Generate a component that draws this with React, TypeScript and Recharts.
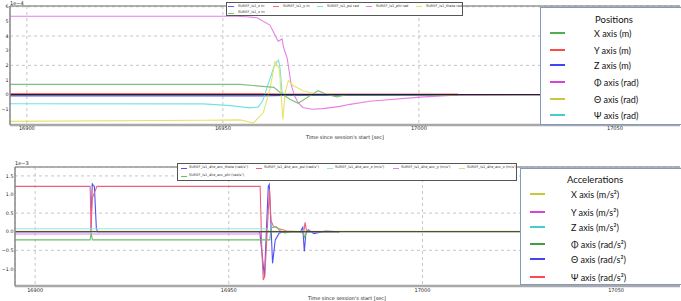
import React from "react";
import { CartesianGrid, Line, LineChart, ReferenceLine, XAxis, YAxis } from "recharts";

type Pt = [number, number];

// ---- ticks / domains ----
const timeTicks = [16900, 16950, 17000, 17050];
const posTicks = [-1, 0, 1, 2, 3, 4, 5, 6];
const accTicks = [-1.0, -0.5, 0, 0.5, 1.0, 1.5];
const posDomainX = [16895.7, 17066.6];
const accDomainX = [16894.8, 17066.5];
const posDomainY = [-2.07, 6.05];
const accDomainY = [-1.46, 1.74];

// ---- positions (x1e-4), [time, value] ----
const posZ: Pt[] = [[16895.7, -0.08], [16960, -0.08], [16966, -0.05], [17010, -0.04]];
const posY: Pt[] = [[16895.7, 0.08], [16960, 0.08], [16966, 0.05], [17010, 0.04]];
const posPsi: Pt[] = [
  [16895.7, -0.62], [16945, -0.63], [16952, -0.75], [16956.9, -0.9], [16959, -0.85],
  [16960.2, -0.4], [16962, 1.08], [16963.3, 2.12], [16964.2, 2.35], [16964.6, 1.77],
  [16965.1, 0.15], [16965.9, 0], [17010, 0],
];
const posPhi: Pt[] = [
  [16895.7, 5.35], [16953.5, 5.35], [16956, 5.32], [16958.7, 5.25], [16962, 4.75],
  [16964.1, 3.65], [16965.1, 3.8], [16965.5, 3.2], [16966.4, 2.5], [16967.4, 0.7],
  [16968.3, -0.1], [16969.2, -0.55], [16970.4, -0.87], [16972.7, -1.0], [16975.5, -0.95],
  [16979.9, -0.8], [16982.4, -0.66], [16987.5, -0.45], [17000.3, -0.17], [17009.2, -0.03],
  [17066.6, 0],
];
const posTheta: Pt[] = [
  [16895.7, -1.82], [16945, -1.75], [16954.4, -1.72], [16957.8, -1.93], [16960.3, -1.24],
  [16962, 0.38], [16963.3, 2.24], [16964.4, 1.77], [16965.3, -1.7], [16965.9, 0.15],
  [16966.7, 0.96], [16968, 0.61], [16970.5, 0.26], [16973.9, 0.03], [17010, 0],
];
const posX: Pt[] = [
  [16895.7, 0.7], [16954.4, 0.7], [16963.0, 0.5], [16964.6, 0.15], [16967.1, -0.31],
  [16969.2, -0.59], [16972.2, -0.08], [16974.3, 0.27], [16976.4, 0.03], [16979, -0.15],
  [16981.6, 0], [17010, 0],
];

// ---- accelerations (x1e-3), [time, value] ----
const accTheta: Pt[] = [
  [16894.8, 0], [16914.4, 0], [16914.6, 0.8], [16914.75, 1.3], [16915.0, 1.24], [16915.3, 1.22],
  [16915.8, 0.1], [16916.1, 0], [16958.0, 0], [16959.2, -1.21], [16960.2, 1.22], [16960.45, 1.27],
  [16961.3, -0.85], [16962.0, -0.22], [16963.0, -0.04], [16964.0, 0], [16968.5, 0], [16969.1, 0.12],
  [16969.5, -0.53], [16969.9, -0.05], [16970.5, 0.05], [16972, -0.05], [16975, 0.02], [16978.5, 0],
];
const accPsi: Pt[] = [
  [16894.8, 1.22], [16914.2, 1.22], [16914.45, 0.05], [16914.75, 0.9], [16915.95, 1.22],
  [16958.1, 1.22], [16958.5, -0.4], [16958.9, -1.3], [16959.3, -1.2], [16960.5, 1.15],
  [16960.9, 0.3], [16961.5, 0.15], [16963, 0.08], [16965, 0.02], [16968.5, 0], [16969.3, -0.05],
  [16969.7, 0.25], [16970.1, 0], [16978.5, 0],
];
const accZ: Pt[] = [[16894.8, 0.08], [16959.8, 0.08], [16960.5, 0], [16978.5, 0]];
const accY: Pt[] = [[16894.8, -0.06], [16958.0, -0.06], [16958.5, 0], [16978.5, 0]];
const accX: Pt[] = [[16894.8, 0.01], [17066.5, 0.01]];
const accPhi: Pt[] = [
  [16894.8, -0.22], [16914.2, -0.22], [16914.45, -0.03], [16914.8, -0.22], [16960.6, -0.22],
  [16960.9, 0.1], [16962.2, 0.14], [16963.5, 0.0], [16964.5, -0.03], [16966, 0], [16969.2, 0],
  [16969.6, -0.17], [16970, 0], [16978.5, 0],
];

// plot order follows the matplotlib legend
const posSeries = [
  { name: "SUREF_is1_z m", color: "#5a5af0", pts: posZ },
  { name: "SUREF_is1_y m", color: "#ff6a6a", pts: posY },
  { name: "SUREF_is1_psi rad", color: "#6fe3e3", pts: posPsi },
  { name: "SUREF_is1_phi rad", color: "#e87ee8", pts: posPhi },
  { name: "SUREF_is1_theta rad", color: "#e4e46a", pts: posTheta },
  { name: "SUREF_is1_x m", color: "#80c080", pts: posX },
];
const accSeries = [
  { name: "SUREF_is1_4hz_acc_theta (rad/s²)", color: "#5050f2", pts: accTheta },
  { name: "SUREF_is1_4hz_acc_psi (rad/s²)", color: "#f0607a", pts: accPsi },
  { name: "SUREF_is1_4hz_acc_z (m/s²)", color: "#90e8e8", pts: accZ },
  { name: "SUREF_is1_4hz_acc_y (m/s²)", color: "#ee7aee", pts: accY },
  { name: "SUREF_is1_4hz_acc_x (m/s²)", color: "#dede78", pts: accX },
  { name: "SUREF_is1_4hz_acc_phi (rad/s²)", color: "#6cbc6c", pts: accPhi },
];

const posLabels = ["X axis (m)", "Y axis (m)", "Z axis (m)", "Φ axis (rad)", "Θ axis (rad)", "Ψ axis (rad)"];
const posLabelColors = ["#4fae4f", "#ff4a4a", "#4444f4", "#d843d8", "#c8c83c", "#45cccc"];
const accLabels = ["X axis (m/s²)", "Y axis (m/s²)", "Z axis (m/s²)", "Φ axis (rad/s²)", "Θ axis (rad/s²)", "Ψ axis (rad/s²)"];
const accLabelColors = ["#c8c83c", "#d843d8", "#45cccc", "#3fa03f", "#4444f4", "#ff4a4a"];

const toRows = (pts: Pt[]) => pts.map(([t, v]) => ({ t, v }));

const minus = (s: string) => s.replace("-", "−");
const fmtInt = (v: number) => minus(String(v));
const fmtOne = (v: number) => minus(v.toFixed(1));

const xTickStyle = { fontSize: 5, fill: "#222", fontFamily: "DejaVu Sans" };
const yTickStyle = { fontSize: 4.8, fill: "#222", fontFamily: "DejaVu Sans" };
const SANS = "Lato, 'Open Sans', sans-serif";

function MplLegend({ items, left, top, width, height, cols, rows, textDx }: {
  items: { name: string; color: string }[];
  left: number; top: number; width: number; height: number;
  cols: number[]; rows: number[]; textDx: number;
}) {
  return (
    <div style={{ position: "absolute", left, top, width, height, border: "1px solid #555", background: "#fff", boxSizing: "border-box" }}>
      {items.map((s, i) => {
        const x = cols[i % cols.length];
        const y = rows[Math.floor(i / cols.length)];
        return (
          <React.Fragment key={s.name}>
            <div style={{ position: "absolute", left: x, top: y - 0.5, width: 6, height: 1.2, background: s.color }} />
            <div style={{ position: "absolute", left: x + textDx, top: y, transform: "translateY(-50%)", fontSize: 3.5, lineHeight: 1, whiteSpace: "nowrap", color: "#333", fontFamily: "DejaVu Sans" }}>
              {s.name}
            </div>
          </React.Fragment>
        );
      })}
    </div>
  );
}

function SideLegend({ left, top, width, height, title, titleX, titleY, labels, colors, rows, textX }: {
  left: number; top: number; width: number; height: number; title: string; titleX: number; titleY: number;
  labels: string[]; colors: string[]; rows: number[]; textX: number;
}) {
  return (
    <div style={{ position: "absolute", left, top, width, height, border: "1.3px solid #7f9cc0", background: "#fff", boxSizing: "border-box", fontFamily: SANS, color: "#111" }}>
      <div style={{ position: "absolute", left: titleX, top: titleY, transform: "translate(-50%,-50%)", fontSize: 9.5, whiteSpace: "nowrap" }}>{title}</div>
      {labels.map((l, i) => (
        <React.Fragment key={l}>
          <div style={{ position: "absolute", left: 9, top: rows[i] - 1, width: 15, height: 2, background: colors[i] }} />
          <div style={{ position: "absolute", left: textX, top: rows[i], transform: "translateY(-50%)", fontSize: 9, whiteSpace: "nowrap" }}>{l}</div>
        </React.Fragment>
      ))}
    </div>
  );
}

function Panel({ series, domainX, domainY, yTicks, fmt, yWidth, height, top, xTickGap }: {
  series: { name: string; color: string; pts: Pt[] }[];
  domainX: number[]; domainY: number[]; yTicks: number[]; fmt: (v: number) => string;
  yWidth: number; height: number; top: number; xTickGap: number;
}) {
  return (
    <LineChart width={681} height={height} margin={{ top, right: 1, left: 0, bottom: 0 }}>
      <CartesianGrid stroke="#b8b8b8" strokeDasharray="3 3" strokeWidth={0.8} />
      <XAxis
        dataKey="t"
        type="number"
        domain={domainX}
        ticks={timeTicks}
        allowDataOverflow
        height={15}
        tick={xTickStyle}
        tickLine={false}
        tickSize={0}
        tickMargin={xTickGap}
        axisLine={{ stroke: "#a8a8a8", strokeWidth: 2.5 }}
      />
      <YAxis
        type="number"
        domain={domainY}
        ticks={yTicks}
        allowDataOverflow
        width={yWidth}
        tick={yTickStyle}
        tickFormatter={fmt}
        tickLine={false}
        tickSize={0}
        tickMargin={1.5}
        axisLine={{ stroke: "#888", strokeWidth: 1.5 }}
      />
      <ReferenceLine y={domainY[1]} stroke="#999" strokeWidth={1.5} />
      {series.map((s) => (
        <Line
          key={s.name}
          name={s.name}
          data={toRows(s.pts)}
          dataKey="v"
          type="linear"
          stroke={s.color}
          strokeWidth={1.1}
          dot={false}
          activeDot={false}
          isAnimationActive={false}
        />
      ))}
      <ReferenceLine y={0} stroke="#222" strokeWidth={1.1} />
    </LineChart>
  );
}

export default function App() {
  const small = { position: "absolute" as const, fontSize: 5, fontFamily: "DejaVu Sans", color: "#222", whiteSpace: "nowrap" as const, lineHeight: 1 };
  return (
    <div style={{ position: "absolute", left: 0, top: 0, width: 681, height: 301, background: "#fff", overflow: "hidden" }}>
      <div style={{ position: "absolute", left: 0, top: 0 }}>
        <Panel series={posSeries} domainX={posDomainX} domainY={posDomainY} yTicks={posTicks} fmt={fmtInt} yWidth={10} height={140} top={6} xTickGap={1.5} />
      </div>
      <div style={{ position: "absolute", left: 0, top: 152 }}>
        <Panel series={accSeries} domainX={accDomainX} domainY={accDomainY} yTicks={accTicks} fmt={fmtOne} yWidth={15} height={149} top={15} xTickGap={2} />
      </div>

      <div style={{ ...small, left: 10, top: 0.5 }}>1e−4</div>
      <div style={{ ...small, left: 15, top: 161 }}>1e−3</div>
      <div style={{ ...small, left: 345, top: 137, transform: "translate(-50%,-50%)" }}>Time since session's start [sec]</div>
      <div style={{ ...small, left: 347, top: 297.5, transform: "translate(-50%,-50%)" }}>Time since session's start [sec]</div>

      <MplLegend items={posSeries} left={226} top={2} width={237} height={14} cols={[1, 46, 90, 139, 189]} rows={[3.7, 10]} textDx={10} />
      <MplLegend items={accSeries} left={177} top={163} width={340} height={18} cols={[3, 78, 149, 215, 281]} rows={[4.3, 12]} textDx={8} />

      <SideLegend left={540} top={7} width={150} height={118} title="Positions" titleX={73} titleY={11}
        labels={posLabels} colors={posLabelColors} rows={[25, 42, 57, 74, 91, 107]} textX={53} />
      <SideLegend left={520} top={168} width={170} height={117} title="Accelerations" titleX={74} titleY={10}
        labels={accLabels} colors={accLabelColors} rows={[25, 43, 58, 75, 90, 108]} textX={50} />
    </div>
  );
}
